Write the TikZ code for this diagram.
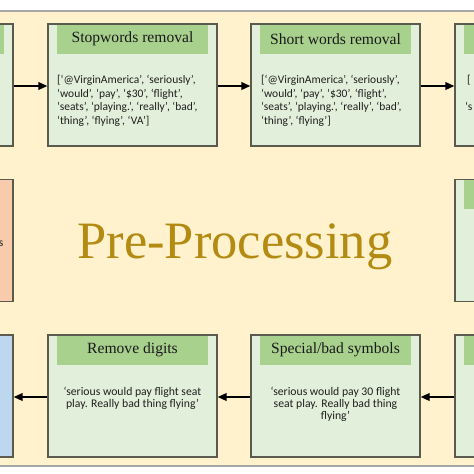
\documentclass[tikz,border=0pt]{standalone}
\usepackage{fontspec}
\setmainfont{Liberation Serif}
\newfontfamily\bodyfont{Carlito}
\usetikzlibrary{arrows.meta}
\definecolor{cream}{HTML}{FFF2CC}
\definecolor{boxfill}{HTML}{E2EFDA}
\definecolor{boxline}{HTML}{5A5A4E}
\definecolor{headfill}{HTML}{A9D18E}
\definecolor{pinkfill}{HTML}{F8CBAD}
\definecolor{bluefill}{HTML}{BDD7EE}
\definecolor{gold}{HTML}{B38A12}
\definecolor{frameline}{HTML}{A6A6A6}
\begin{document}
\begin{tikzpicture}[x=1pt,y=-1pt,
  stagebox/.style={draw=boxline, line width=1.1pt, fill=boxfill, minimum width=169pt, minimum height=122pt, inner sep=0pt},
  headbox/.style={fill=headfill, minimum width=151pt, minimum height=29pt, inner sep=0pt, font=\fontsize{15.6}{18}\selectfont, text=black!90, anchor=north},
  bodytext/.style={inner sep=0pt, text=black!88, font=\bodyfont\fontsize{11.5}{13.7}\selectfont},
  bodysmall/.style={inner sep=0pt, text=black!88, font=\bodyfont\fontsize{11.7}{12.1}\selectfont},
  flow/.style={line width=1.8pt, -{Triangle[length=9pt,width=7.5pt]}}
]
\useasboundingbox (0,0) rectangle (474,474);
\fill[white] (0,0) rectangle (474,474);
\fill[cream] (-5,11) rectangle (479,466);
\draw[frameline, line width=1.2pt] (-5,11) -- (479,11);
\draw[frameline, line width=1.2pt] (-5,466) -- (479,466);

% top row
\node[stagebox] (tl) at (-71.5,85) {};
\node[headbox] (tlh) at ([yshift=-1pt]tl.north) {};
\node[stagebox] (sw) at (132.5,85) {};
\node[headbox] (swh) at ([yshift=-1pt]sw.north) {Stopwords removal};
\node[bodytext, anchor=north west, align=left] (swt) at (57,75)
  {[‘@VirginAmerica’, ‘seriously’,\\ ‘would’, ‘pay’, ‘\$30’, ‘flight’,\\ ‘seats’, ‘playing.’, ‘really’, ‘bad’,\\ ‘thing’, ‘flying’, ‘VA’]};
\node[stagebox] (shw) at (335.5,85) {};
\node[headbox] (shwh) at ([yshift=-1pt]shw.north) {Short words removal};
\node[bodytext, anchor=north west, align=left] (shwt) at (261,75)
  {[‘@VirginAmerica’, ‘seriously’,\\ ‘would’, ‘pay’, ‘\$30’, ‘flight’,\\ ‘seats’, ‘playing.’, ‘really’, ‘bad’,\\ ‘thing’, ‘flying’]};
\node[stagebox] (tr) at (539.5,85) {};
\node[headbox] (trh) at ([yshift=-1pt]tr.north) {};
\node[bodytext, anchor=north west] (trt1) at (467,75) {[};
\node[bodytext, anchor=north west] (trt3) at (465,102.5) {‘s};

% middle row
\node[stagebox, fill=pinkfill] (ml) at (-71.5,240.5) {};
\node[bodytext, anchor=base east] (mlt) at (3.5,246) {s};
\node[font=\fontsize{52.5}{60}\selectfont, text=gold, anchor=base, inner sep=0pt] (title) at (235,258) {Pre-Processing};
\node[stagebox] (mr) at (539.5,240.5) {};
\node[headbox] (mrh) at ([yshift=-1pt]mr.north) {};

% bottom row
\node[stagebox, fill=bluefill] (bl) at (-71.5,396) {};
\node[stagebox] (rd) at (132.5,396) {};
\node[headbox] (rdh) at ([yshift=-1pt]rd.north) {Remove digits};
\node[bodysmall, anchor=north, align=center] (rdt) at (132.5,387)
  {‘serious would pay flight seat\\ play. Really bad thing flying’};
\node[stagebox] (sb) at (335.5,396) {};
\node[headbox] (sbh) at ([yshift=-1pt]sb.north) {Special/bad symbols};
\node[bodysmall, anchor=north, align=center] (sbt) at (335.5,387)
  {‘serious would pay 30 flight\\ seat play. Really bad thing\\ flying’};
\node[stagebox] (br) at (539.5,396) {};
\node[headbox] (brh) at ([yshift=-1pt]br.north) {};

% connectors
\draw[flow] ([yshift=-1pt]tl.east) -- ([yshift=-1pt]sw.west);
\draw[flow] ([yshift=-1pt]sw.east) -- ([yshift=-1pt]shw.west);
\draw[flow] ([yshift=-1pt]shw.east) -- ([yshift=-1pt]tr.west);
\draw[flow] ([yshift=-1pt]br.west) -- ([yshift=-1pt]sb.east);
\draw[flow] ([yshift=-1pt]sb.west) -- ([yshift=-1pt]rd.east);
\draw[flow] ([yshift=-1pt]rd.west) -- ([yshift=-1pt]bl.east);
\end{tikzpicture}
\end{document}
